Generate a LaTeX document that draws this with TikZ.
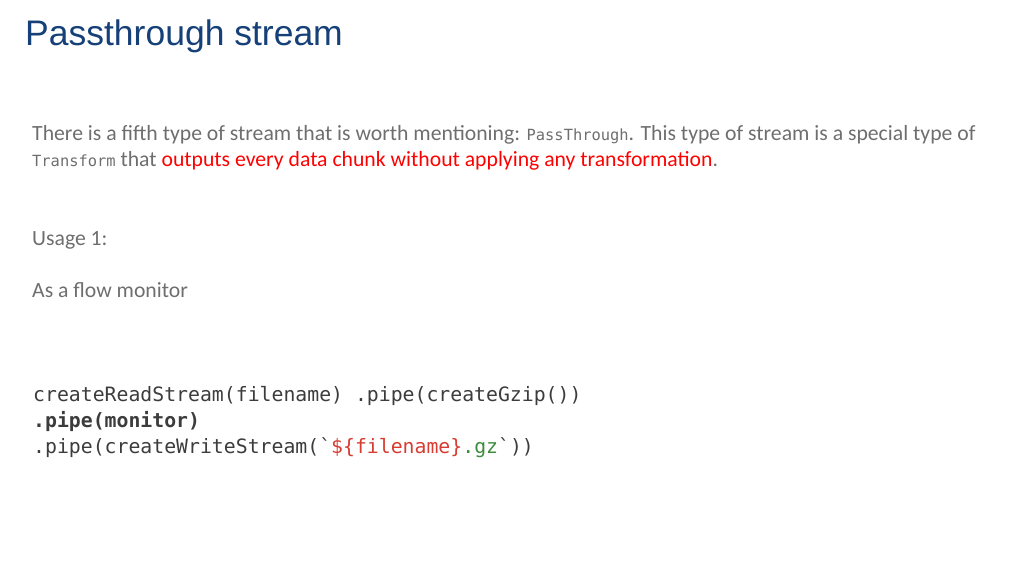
\documentclass[tikz,border=0pt]{standalone}
\usepackage{fontspec}
\setmainfont{Carlito}
\newfontfamily\titlefont{Liberation Sans}
\setmonofont{DejaVu Sans Mono}
\definecolor{titleblue}{RGB}{22,64,120}
\definecolor{bodygray}{RGB}{110,110,110}
\definecolor{codegray}{RGB}{60,60,60}
\definecolor{strred}{RGB}{215,60,50}
\definecolor{strgreen}{RGB}{60,140,60}
\tikzstyle{line}=[anchor=base west,inner sep=0pt,text=bodygray,font=\fontsize{21.7}{24}\selectfont]
\tikzstyle{code}=[anchor=base west,inner sep=0pt,text=codegray,font=\ttfamily\fontsize{19.8}{24}\selectfont]

\begin{document}
\begin{tikzpicture}[x=1pt,y=-1pt]
  \useasboundingbox (0,0) rectangle (1029,573);

  \node[anchor=base west,inner sep=0pt,text=titleblue,font=\titlefont\fontsize{35.5}{38}\selectfont] (title) at (25,45) {Passthrough stream};

  \node[line] (par1) at (32,140) {There is a fifth type of stream that is worth mentioning: {\ttfamily\fontsize{15.4}{16}\selectfont PassThrough}. This type of stream is a special type of};
  \node[line] (par2) at (32,166) {{\ttfamily\fontsize{15.4}{16}\selectfont Transform} that \textcolor{red}{outputs every data chunk without applying any transformation}.};

  \node[line] (usage) at (32,245) {Usage 1:};
  \node[line] (monitor) at (32,297) {As a flow monitor};

  \node[code] (code1) at (33,401) {createReadStream(filename) .pipe(createGzip())};
  \node[code] (code2) at (33,427) {\bfseries .pipe(monitor)};
  \node[code] (code3) at (33,453) {.pipe(createWriteStream(`\textcolor{strred}{\$\{filename\}}\textcolor{strgreen}{.gz}`))};
\end{tikzpicture}
\end{document}
